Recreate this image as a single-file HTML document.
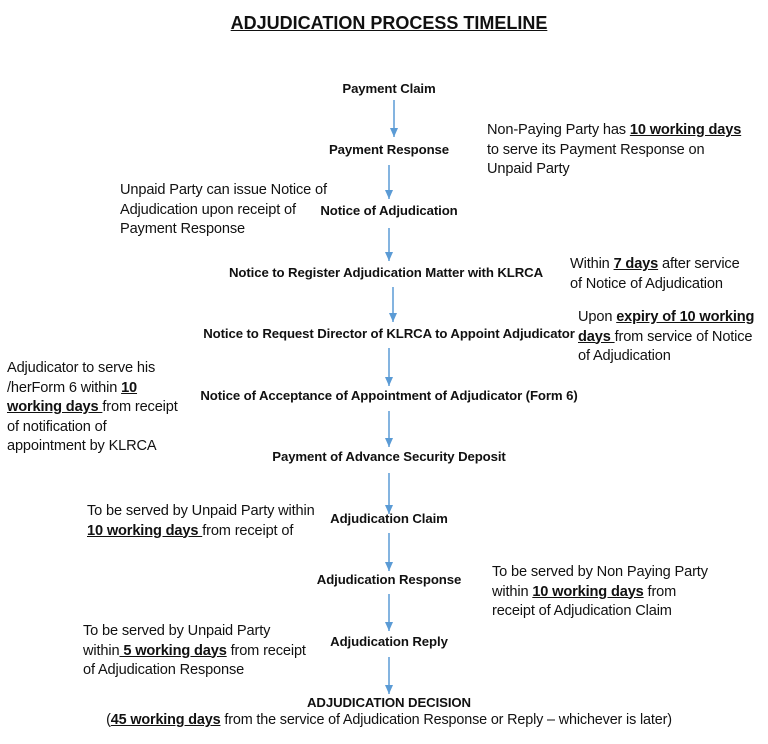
<!DOCTYPE html>
<html><head><meta charset="utf-8"><style>
body{margin:0;width:768px;height:744px;background:#fff;position:relative;overflow:hidden;font-family:"Liberation Sans",sans-serif;color:#111}
.c{position:absolute;left:0;width:778px;text-align:center;font-weight:bold;font-size:13.2px;line-height:20px;white-space:nowrap;letter-spacing:-0.1px}
.n{position:absolute;font-size:14.6px;line-height:19.5px;white-space:nowrap;letter-spacing:-0.15px}
svg{position:absolute;left:0;top:0}
</style></head><body>
<div class="c" style="top:11px;font-size:18px;line-height:24px;text-decoration:underline;letter-spacing:0">ADJUDICATION PROCESS TIMELINE</div>
<svg width="768" height="744">
<defs><marker id="a" markerWidth="10" markerHeight="10" refX="9" refY="4" orient="auto" markerUnits="userSpaceOnUse"><path d="M0,0 L9,4 L0,8 Z" fill="#5b9bd5"/></marker></defs>
<g stroke="#5b9bd5" stroke-width="1.5" marker-end="url(#a)">
<line x1="394" y1="100" x2="394" y2="137"/>
<line x1="389" y1="165" x2="389" y2="199"/>
<line x1="389" y1="228" x2="389" y2="261"/>
<line x1="393" y1="287" x2="393" y2="322"/>
<line x1="389" y1="348" x2="389" y2="386"/>
<line x1="389" y1="411" x2="389" y2="447"/>
<line x1="389" y1="473" x2="389" y2="514"/>
<line x1="389" y1="533" x2="389" y2="571"/>
<line x1="389" y1="594" x2="389" y2="631"/>
<line x1="389" y1="657" x2="389" y2="694"/>
</g></svg>
<div class="c" style="top:79px">Payment Claim</div>
<div class="c" style="top:140px">Payment Response</div>
<div class="c" style="top:201px">Notice of Adjudication</div>
<div class="c" style="top:263px;left:-3px">Notice to Register Adjudication Matter with KLRCA</div>
<div class="c" style="top:324px">Notice to Request Director of KLRCA to Appoint Adjudicator</div>
<div class="c" style="top:386px">Notice of Acceptance of Appointment of Adjudicator (Form 6)</div>
<div class="c" style="top:447px">Payment of Advance Security Deposit</div>
<div class="c" style="top:509px">Adjudication Claim</div>
<div class="c" style="top:570px">Adjudication Response</div>
<div class="c" style="top:632px">Adjudication Reply</div>
<div class="c" style="top:693px">ADJUDICATION DECISION</div>
<div class="c" style="top:710px;font-weight:normal;font-size:14.4px;letter-spacing:-0.15px">(<b><u>45 working days</u></b> from the service of Adjudication Response or Reply – whichever is later)</div>

<div class="n" style="left:487px;top:121px">Non-Paying Party has <b><u>10 working days</u></b><br>to serve its Payment Response on<br>Unpaid Party</div>
<div class="n" style="left:120px;top:181px">Unpaid Party can issue Notice of<br>Adjudication upon receipt of<br>Payment Response</div>
<div class="n" style="left:570px;top:255px">Within <b><u>7 days</u></b> after service<br>of Notice of Adjudication</div>
<div class="n" style="left:578px;top:308px">Upon <b><u>expiry of 10 working</u></b><br><b><u>days </u></b>from service of Notice<br>of Adjudication</div>
<div class="n" style="left:7px;top:359px">Adjudicator to serve his<br>/herForm 6 within <b><u>10</u></b><br><b><u>working days </u></b>from receipt<br>of notification of<br>appointment by KLRCA</div>
<div class="n" style="left:87px;top:502px">To be served by Unpaid Party within<br><b><u>10 working days </u></b>from receipt of</div>
<div class="n" style="left:492px;top:563px">To be served by Non Paying Party<br>within <b><u>10 working days</u></b> from<br>receipt of Adjudication Claim</div>
<div class="n" style="left:83px;top:622px">To be served by Unpaid Party<br>within<b><u> 5 working days</u></b> from receipt<br>of Adjudication Response</div>
</body></html>
